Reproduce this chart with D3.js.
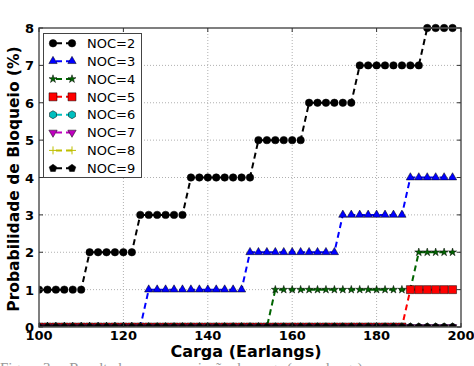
<!DOCTYPE html>
<html><head><meta charset="utf-8">
<script src="https://cdn.jsdelivr.net/npm/d3@7"></script>
<style>body{margin:0;background:#fff;overflow:hidden}svg{display:block}</style>
</head><body>
<svg id="c" width="474" height="366"></svg>
<script>
const load = [100,102,104,106,108,110,112,114,116,118,120,122,124,126,128,130,132,134,136,138,140,142,144,146,148,150,152,154,156,158,160,162,164,166,168,170,172,174,176,178,180,182,184,186,188,190,192,194,196,198];
const noc2 = [1,1,1,1,1,1,2,2,2,2,2,2,3,3,3,3,3,3,4,4,4,4,4,4,4,4,5,5,5,5,5,5,6,6,6,6,6,6,7,7,7,7,7,7,7,7,8,8,8,8];
const noc3 = [0,0,0,0,0,0,0,0,0,0,0,0,0,1,1,1,1,1,1,1,1,1,1,1,1,2,2,2,2,2,2,2,2,2,2,2,3,3,3,3,3,3,3,3,4,4,4,4,4,4];
const noc4 = [0,0,0,0,0,0,0,0,0,0,0,0,0,0,0,0,0,0,0,0,0,0,0,0,0,0,0,0,1,1,1,1,1,1,1,1,1,1,1,1,1,1,1,1,1,2,2,2,2,2];
const noc5 = [0,0,0,0,0,0,0,0,0,0,0,0,0,0,0,0,0,0,0,0,0,0,0,0,0,0,0,0,0,0,0,0,0,0,0,0,0,0,0,0,0,0,0,0,1,1,1,1,1,1];
const noc6 = [0,0,0,0,0,0,0,0,0,0,0,0,0,0,0,0,0,0,0,0,0,0,0,0,0,0,0,0,0,0,0,0,0,0,0,0,0,0,0,0,0,0,0,0,0,0,0,0,0,0];
const noc7 = [0,0,0,0,0,0,0,0,0,0,0,0,0,0,0,0,0,0,0,0,0,0,0,0,0,0,0,0,0,0,0,0,0,0,0,0,0,0,0,0,0,0,0,0,0,0,0,0,0,0];
const noc8 = [0,0,0,0,0,0,0,0,0,0,0,0,0,0,0,0,0,0,0,0,0,0,0,0,0,0,0,0,0,0,0,0,0,0,0,0,0,0,0,0,0,0,0,0,0,0,0,0,0,0];
const noc9 = [0,0,0,0,0,0,0,0,0,0,0,0,0,0,0,0,0,0,0,0,0,0,0,0,0,0,0,0,0,0,0,0,0,0,0,0,0,0,0,0,0,0,0,0,0,0,0,0,0,0];
const seriesNames = ["NOC=2","NOC=3","NOC=4","NOC=5","NOC=6","NOC=7","NOC=8","NOC=9"];
const xTicks = [100,120,140,160,180,200];
const yTicks = [0,1,2,3,4,5,6,7,8];

const colors = ["#000000","#0000ff","#006400","#ff0000","#00bfbf","#bf00bf","#bfbf00","#000000"];
const markers = ["circle","triUp","star","square","hexagon","triDown","plus","pentagon"];
const allSeries = [noc2,noc3,noc4,noc5,noc6,noc7,noc8,noc9];

const svg = d3.select("#c");
const L=39, R=461, T=28, B=327;
const x = d3.scaleLinear().domain([100,200]).range([L,R]);
const y = d3.scaleLinear().domain([0,8]).range([B,T]);

function poly(n, r, rot){
  const pts=[];
  for(let i=0;i<n;i++){const a=rot+i*2*Math.PI/n; pts.push([r*Math.cos(a), r*Math.sin(a)]);}
  return "M"+pts.map(p=>p.join(",")).join("L")+"Z";
}
function markerPath(t){
  switch(t){
    case "circle": return d3.symbol(d3.symbolCircle, 44)();
    case "triUp": return poly(3,4.8,-Math.PI/2);
    case "triDown": return poly(3,4.8,Math.PI/2);
    case "star": return d3.symbol(d3.symbolStar, 20)();
    case "square": return "M-4,-4H4V4H-4Z";
    case "hexagon": return poly(6,4,-Math.PI/2);
    case "pentagon": return poly(5,4,-Math.PI/2);
    case "plus": return "M-4,0H4M0,-4V4";
  }
}

// grid
const grid = svg.append("g");
xTicks.filter(v=>v>100&&v<200).forEach(v=>{
  grid.append("line").attr("x1",x(v)).attr("x2",x(v)).attr("y1",T).attr("y2",B)
    .attr("stroke","#b0b0b0").attr("stroke-width",1).attr("stroke-dasharray","1,2");
});
yTicks.filter(v=>v>0&&v<8).forEach(v=>{
  grid.append("line").attr("x1",L).attr("x2",R).attr("y1",y(v)).attr("y2",y(v))
    .attr("stroke","#b0b0b0").attr("stroke-width",1).attr("stroke-dasharray","1,2");
});

svg.append("defs").append("clipPath").attr("id","clip").append("rect")
  .attr("x",L).attr("y",T-6).attr("width",R-L).attr("height",B-T+6);

const plot = svg.append("g").attr("clip-path","url(#clip)");
const line = d3.line().x((d,i)=>x(load[i])).y(d=>y(d));
allSeries.forEach((s,k)=>{
  const g = plot.append("g");
  g.append("path").attr("d",line(s)).attr("fill","none").attr("stroke",colors[k])
    .attr("stroke-width",2).attr("stroke-dasharray","6,4");
  g.selectAll("path.m").data(s).enter().append("path").attr("class","m")
    .attr("transform",(d,i)=>`translate(${x(load[i])},${y(d)})`)
    .attr("d",markerPath(markers[k]))
    .attr("fill",markers[k]==="plus"?"none":colors[k])
    .attr("stroke",markers[k]==="plus"?colors[k]:"#000")
    .attr("stroke-width",markers[k]==="plus"?1:0.5);
});

// frame
svg.append("rect").attr("x",L).attr("y",T).attr("width",R-L).attr("height",B-T)
  .attr("fill","none").attr("stroke","#555").attr("stroke-width",1.5);

// ticks inward
const tk = svg.append("g").attr("stroke","#333").attr("stroke-width",1);
xTicks.forEach(v=>{
  tk.append("line").attr("x1",x(v)).attr("x2",x(v)).attr("y1",B).attr("y2",B-4);
  tk.append("line").attr("x1",x(v)).attr("x2",x(v)).attr("y1",T).attr("y2",T+4);
});
yTicks.forEach(v=>{
  tk.append("line").attr("x1",L).attr("x2",L+4).attr("y1",y(v)).attr("y2",y(v));
  tk.append("line").attr("x1",R).attr("x2",R-4).attr("y1",y(v)).attr("y2",y(v));
});

const font = "DejaVu Sans";
xTicks.forEach(v=>{
  svg.append("text").attr("x",x(v)).attr("y",340).attr("text-anchor","middle")
    .attr("font-family",font).attr("font-weight","bold").attr("font-size",13).text(v);
});
yTicks.forEach(v=>{
  svg.append("text").attr("x",34).attr("y",y(v)+5).attr("text-anchor","end")
    .attr("font-family",font).attr("font-weight","bold").attr("font-size",13).text(v);
});
svg.append("text").attr("x",246).attr("y",357).attr("text-anchor","middle")
  .attr("font-family",font).attr("font-weight","bold").attr("font-size",16).text("Carga (Earlangs)");
svg.append("text").attr("transform","translate(19,179) rotate(-90)").attr("text-anchor","middle")
  .attr("font-family",font).attr("font-weight","bold").attr("font-size",15.5).text("Probabilidade de Bloqueio (%)");

// legend
const lg = svg.append("g");
lg.append("rect").attr("x",43.5).attr("y",33.5).attr("width",98).attr("height",144)
  .attr("fill","#fff").attr("stroke","#444").attr("stroke-width",1);
seriesNames.forEach((n,k)=>{
  const yy = 43.3 + k*17.85;
  lg.append("line").attr("x1",53).attr("x2",72).attr("y1",yy).attr("y2",yy)
    .attr("stroke",colors[k]).attr("stroke-width",2).attr("stroke-dasharray","6,4").attr("stroke-dashoffset",-3);
  [53,72].forEach(xx=>{
    lg.append("path").attr("transform",`translate(${xx},${yy})`).attr("d",markerPath(markers[k]))
      .attr("fill",markers[k]==="plus"?"none":colors[k])
      .attr("stroke",markers[k]==="plus"?colors[k]:"#000")
      .attr("stroke-width",markers[k]==="plus"?1:0.5);
  });
  lg.append("text").attr("x",87).attr("y",yy+4.7).attr("font-family",font).attr("font-size",13).text(n);
});

// caption (cut off at bottom, as in the reference)
svg.append("text").attr("x",0).attr("y",373).attr("font-family","Liberation Serif").attr("font-size",15)
  .attr("fill","#999").text("Figura 3.  –  Resultados para a variação da carga (em erlangs).");
</script>
</body></html>
